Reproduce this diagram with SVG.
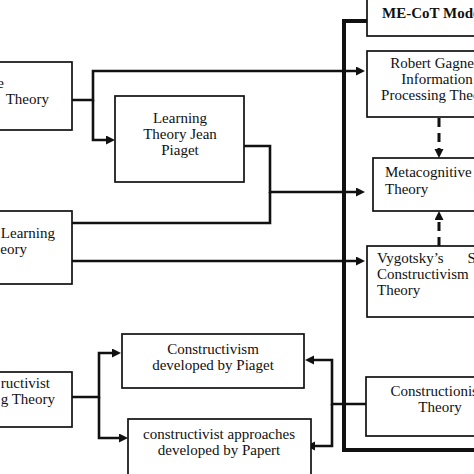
<svg xmlns="http://www.w3.org/2000/svg" width="474" height="474" viewBox="0 0 474 474">
<defs>
<style>
.box{fill:#fff;stroke:#111;stroke-width:1.7}
.t{font-family:"Liberation Serif","Times New Roman",serif;font-size:15px;fill:#111}
.c{text-anchor:middle}
.e{text-anchor:end}
.b{font-weight:bold}
.ln{fill:none;stroke:#111;stroke-width:2.6}
.thick{fill:none;stroke:#111;stroke-width:4}
.dash{fill:none;stroke:#111;stroke-width:3;stroke-dasharray:9,6}
</style>
<marker id="ah" markerUnits="userSpaceOnUse" markerWidth="10" markerHeight="10" refX="5" refY="4.5" orient="auto">
<path d="M0,0 L9,4.5 L0,9 z" fill="#111"/>
</marker>
</defs>
<rect width="474" height="474" fill="#fff"/>

<g id="connectors">
<path class="thick" d="M367,21 H344 V450 H480"/>
<path class="ln" d="M72,100 H93 V71 H361" marker-end="url(#ah)"/>
<path class="ln" d="M93,100 V140 H111" marker-end="url(#ah)"/>
<path class="ln" d="M244,146 H270 V192 H361" marker-end="url(#ah)"/>
<path class="ln" d="M72,223 H270 V192"/>
<path class="ln" d="M72,261 H361" marker-end="url(#ah)"/>
<path class="ln" d="M72,397 H99 V353 H117" marker-end="url(#ah)"/>
<path class="ln" d="M99,397 V438 H124" marker-end="url(#ah)"/>
<path class="ln" d="M366,404 H332 V360 H309" marker-end="url(#ah)"/>
<path class="ln" d="M332,404 V446 H310" marker-end="url(#ah)"/>
<path class="dash" d="M439,118 V154" marker-end="url(#ah)"/>
<path class="dash" d="M439,246 V215" marker-end="url(#ah)"/>
</g>

<g id="node-left1">
<rect class="box" x="-70" y="62" width="142" height="68"/>
<text class="t e" x="4" y="88">e</text>
<text class="t e" x="49" y="104">Theory</text>
</g>

<g id="node-social">
<rect class="box" x="-70" y="211" width="142" height="73"/>
<text class="t e" x="55" y="238">Learning</text>
<text class="t e" x="27" y="254">eory</text>
</g>

<g id="node-constructivist">
<rect class="box" x="-70" y="372" width="142" height="55"/>
<text class="t e" x="50" y="388">ructivist</text>
<text class="t e" x="55" y="404">g Theory</text>
</g>

<g id="node-piaget">
<rect class="box" x="115" y="96" width="129" height="86"/>
<text class="t c" x="180" y="123">Learning</text>
<text class="t c" x="180" y="139">Theory Jean</text>
<text class="t c" x="180" y="155">Piaget</text>
</g>

<g id="node-constructivism-piaget">
<rect class="box" x="122" y="334" width="182" height="54"/>
<text class="t c" x="213" y="354">Constructivism</text>
<text class="t c" x="213" y="370">developed by Piaget</text>
</g>

<g id="node-papert">
<rect class="box" x="128" y="419" width="183" height="80"/>
<text class="t c" x="219" y="439">constructivist approaches</text>
<text class="t c" x="219" y="455">developed by Papert</text>
</g>

<g id="node-mecot">
<rect class="box" x="367" y="-10" width="150" height="46"/>
<text class="t b" x="382" y="18">ME-CoT Model</text>
</g>

<g id="node-gagne">
<rect class="box" x="367" y="51" width="150" height="66"/>
<text class="t c" x="437" y="68">Robert Gagne’s</text>
<text class="t c" x="437" y="84">Information</text>
<text class="t c" x="437" y="100">Processing Theory</text>
</g>

<g id="node-metacognitive">
<rect class="box" x="373" y="158" width="150" height="53"/>
<text class="t" x="385" y="177">Metacognitive</text>
<text class="t" x="385" y="194">Theory</text>
</g>

<g id="node-vygotsky">
<rect class="box" x="367" y="246" width="150" height="71"/>
<text class="t" x="377" y="263" word-spacing="20">Vygotsky’s Social</text>
<text class="t" x="377" y="279">Constructivism</text>
<text class="t" x="377" y="295">Theory</text>
</g>

<g id="node-constructionism">
<rect class="box" x="366" y="377" width="150" height="59"/>
<text class="t c" x="440" y="396">Constructionism</text>
<text class="t c" x="440" y="412">Theory</text>
</g>
</svg>
